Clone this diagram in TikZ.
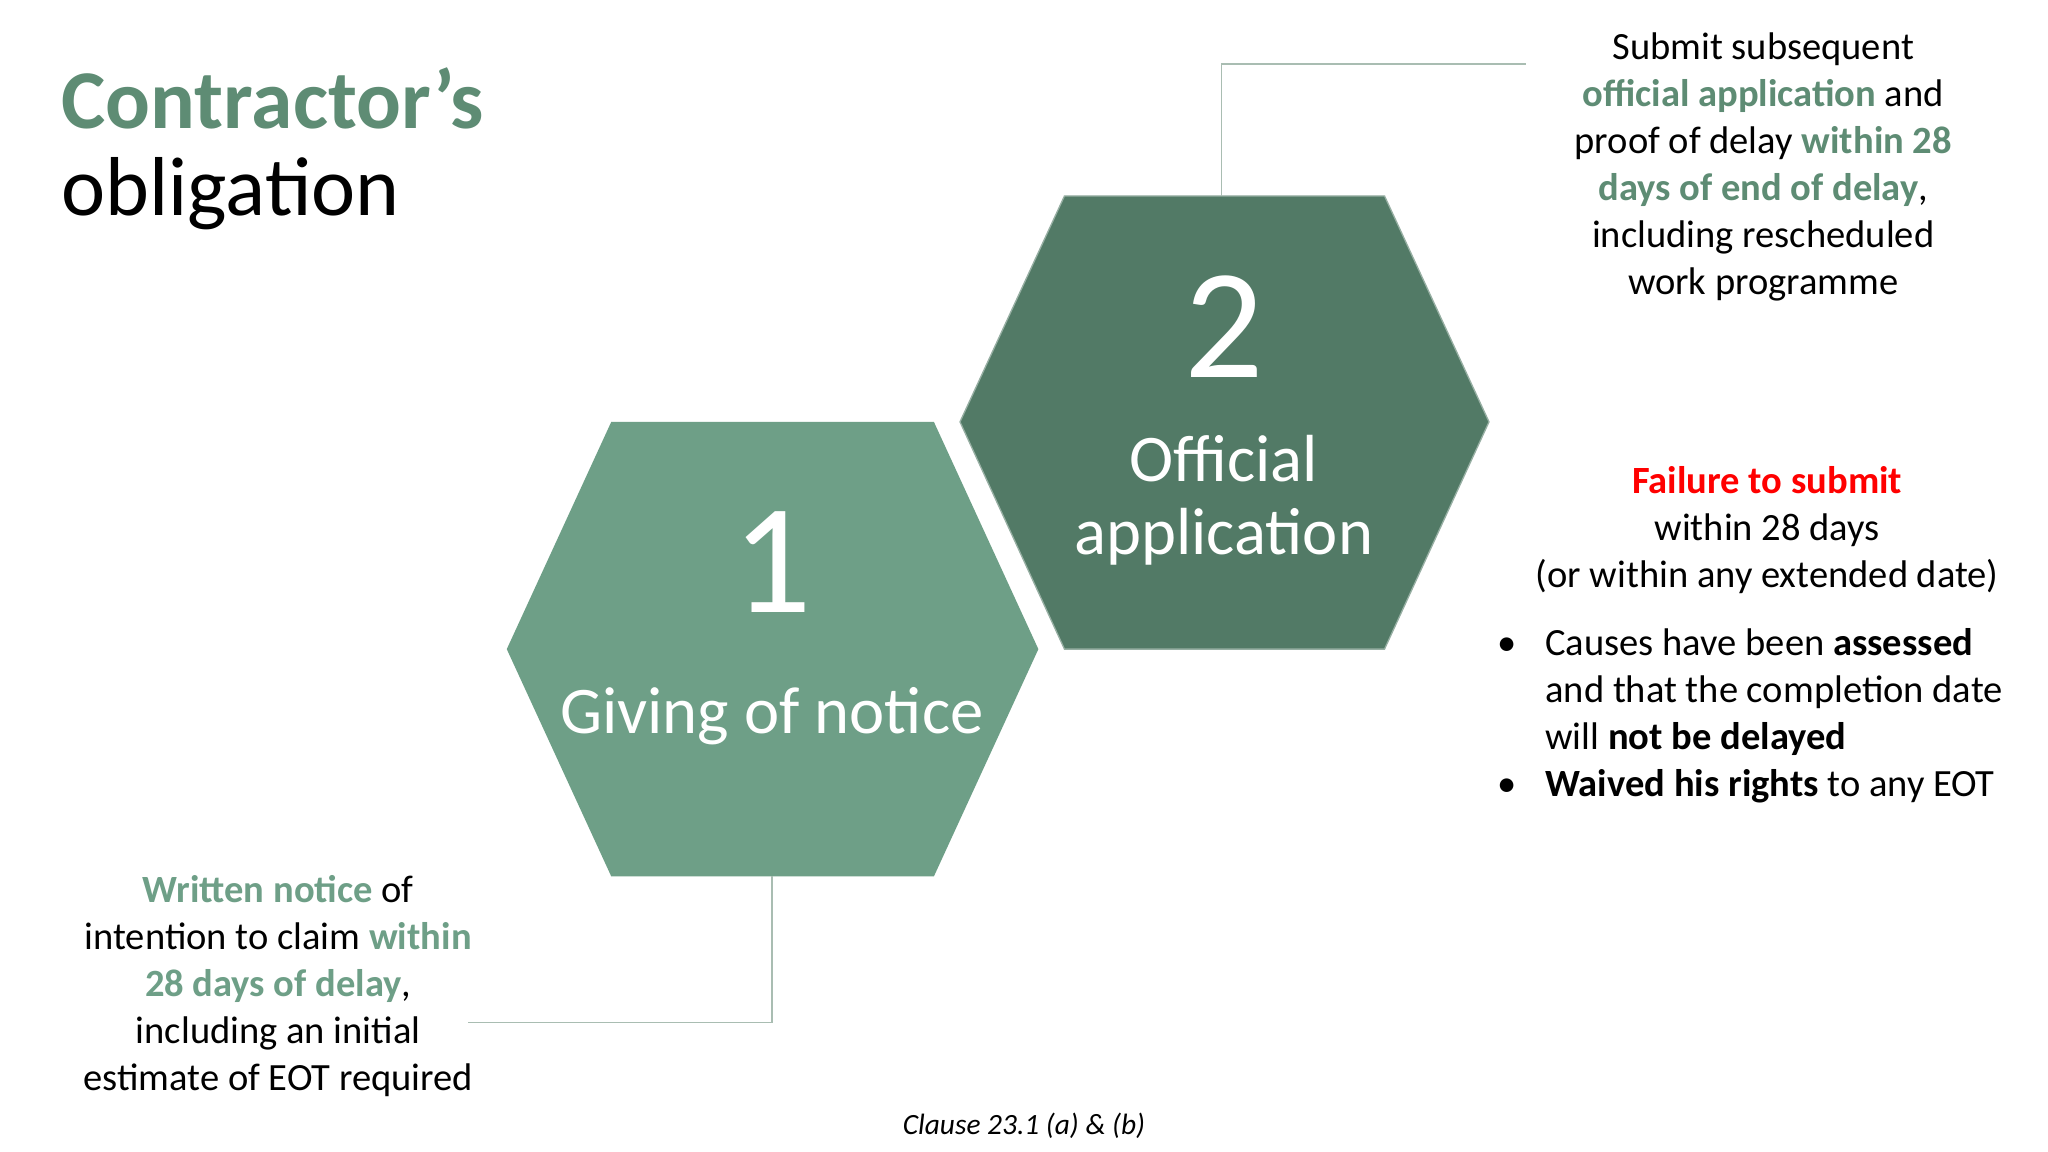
\documentclass[tikz,border=0pt]{standalone}
\usepackage{fontspec}
\setmainfont{Carlito}
\definecolor{hexA}{HTML}{6E9F87}
\definecolor{hexB}{HTML}{527A66}
\definecolor{gtxt}{HTML}{5E8C74}
\definecolor{gtxt2}{HTML}{6E9F87}
\definecolor{lin}{HTML}{A9BDB2}
\begin{document}
\begin{tikzpicture}[x=1pt,y=1pt,
  body/.style={font=\fontsize{29.5}{36}\selectfont,align=center,inner sep=0pt},
  hexnum/.style={text=white,font=\fontsize{120}{120}\selectfont,inner sep=0pt},
  hexlbl/.style={text=white,font=\fontsize{51}{56}\selectfont,align=center,inner sep=0pt},
  conn/.style={draw=lin,line width=1pt}]
\useasboundingbox[fill=white] (0,0) rectangle (1568,-882);
\node[anchor=west,text=gtxt,font=\bfseries\fontsize{64}{66}\selectfont,inner sep=0pt] (t1) at (47,-75) {Contractor’s};
\node[anchor=west,font=\fontsize{64}{66}\selectfont,inner sep=0pt] (t2) at (47,-148) {obligation};
% hexagons
\fill[hexA] (468,-323) -- (715,-323) -- (795,-497) -- (715,-671) -- (468,-671) -- (388,-497) -- cycle;
\draw[hexB!60!white,fill=hexB,line width=1pt] (815,-150) -- (1060,-150) -- (1140,-323) -- (1060,-497) -- (815,-497) -- (735,-323) -- cycle;
\coordinate (h1b) at (591,-671);
\coordinate (h2t) at (935,-150);
\node[hexnum] (n1) at (591,-430) {1};
\node[hexlbl] (l1) at (591,-548) {Giving of notice};
\node[hexlbl] (l2) at (937,-383) {Official\\application};
\node[hexnum] (n2) at (937,-250) {2};
% connectors
\coordinate (c2a) at (935,-49); \coordinate (c2b) at (1168,-49);
\draw[conn] (h2t) -- (c2a) -- (c2b);
\coordinate (c1a) at (591,-783); \coordinate (c1b) at (358,-783);
\draw[conn] (h1b) -- (c1a) -- (c1b);
% right top text
\node[body] (rt) at (1350,-128) {Submit subsequent\\
{\bfseries\color{gtxt}official application} and\\
proof of delay {\bfseries\color{gtxt}within 28}\\
{\bfseries\color{gtxt}days of end of delay},\\
including rescheduled\\
work programme};
% failure
\node[body] (f) at (1353,-406) {{\bfseries\color{red}Failure to submit}\\within 28 days\\(or within any extended date)};
\node[body,align=left,anchor=north west] (b) at (1146,-481) {%
\makebox[37pt][l]{•}Causes have been \textbf{assessed}\\
\makebox[37pt][l]{}and that the completion date\\
\makebox[37pt][l]{}will \textbf{not be delayed}\\
\makebox[37pt][l]{•}\textbf{Waived his rights} to any EOT};
% left bottom
\node[body] (lb) at (213,-755) {{\bfseries\color{gtxt2}Written notice} of\\
intention to claim {\bfseries\color{gtxt2}within}\\
{\bfseries\color{gtxt2}28 days of delay},\\
including an initial\\
estimate of EOT required};
\node[font=\itshape\fontsize{22.5}{24}\selectfont,inner sep=0pt] (cap) at (784,-862) {Clause 23.1 (a) \& (b)};
\end{tikzpicture}
\end{document}
